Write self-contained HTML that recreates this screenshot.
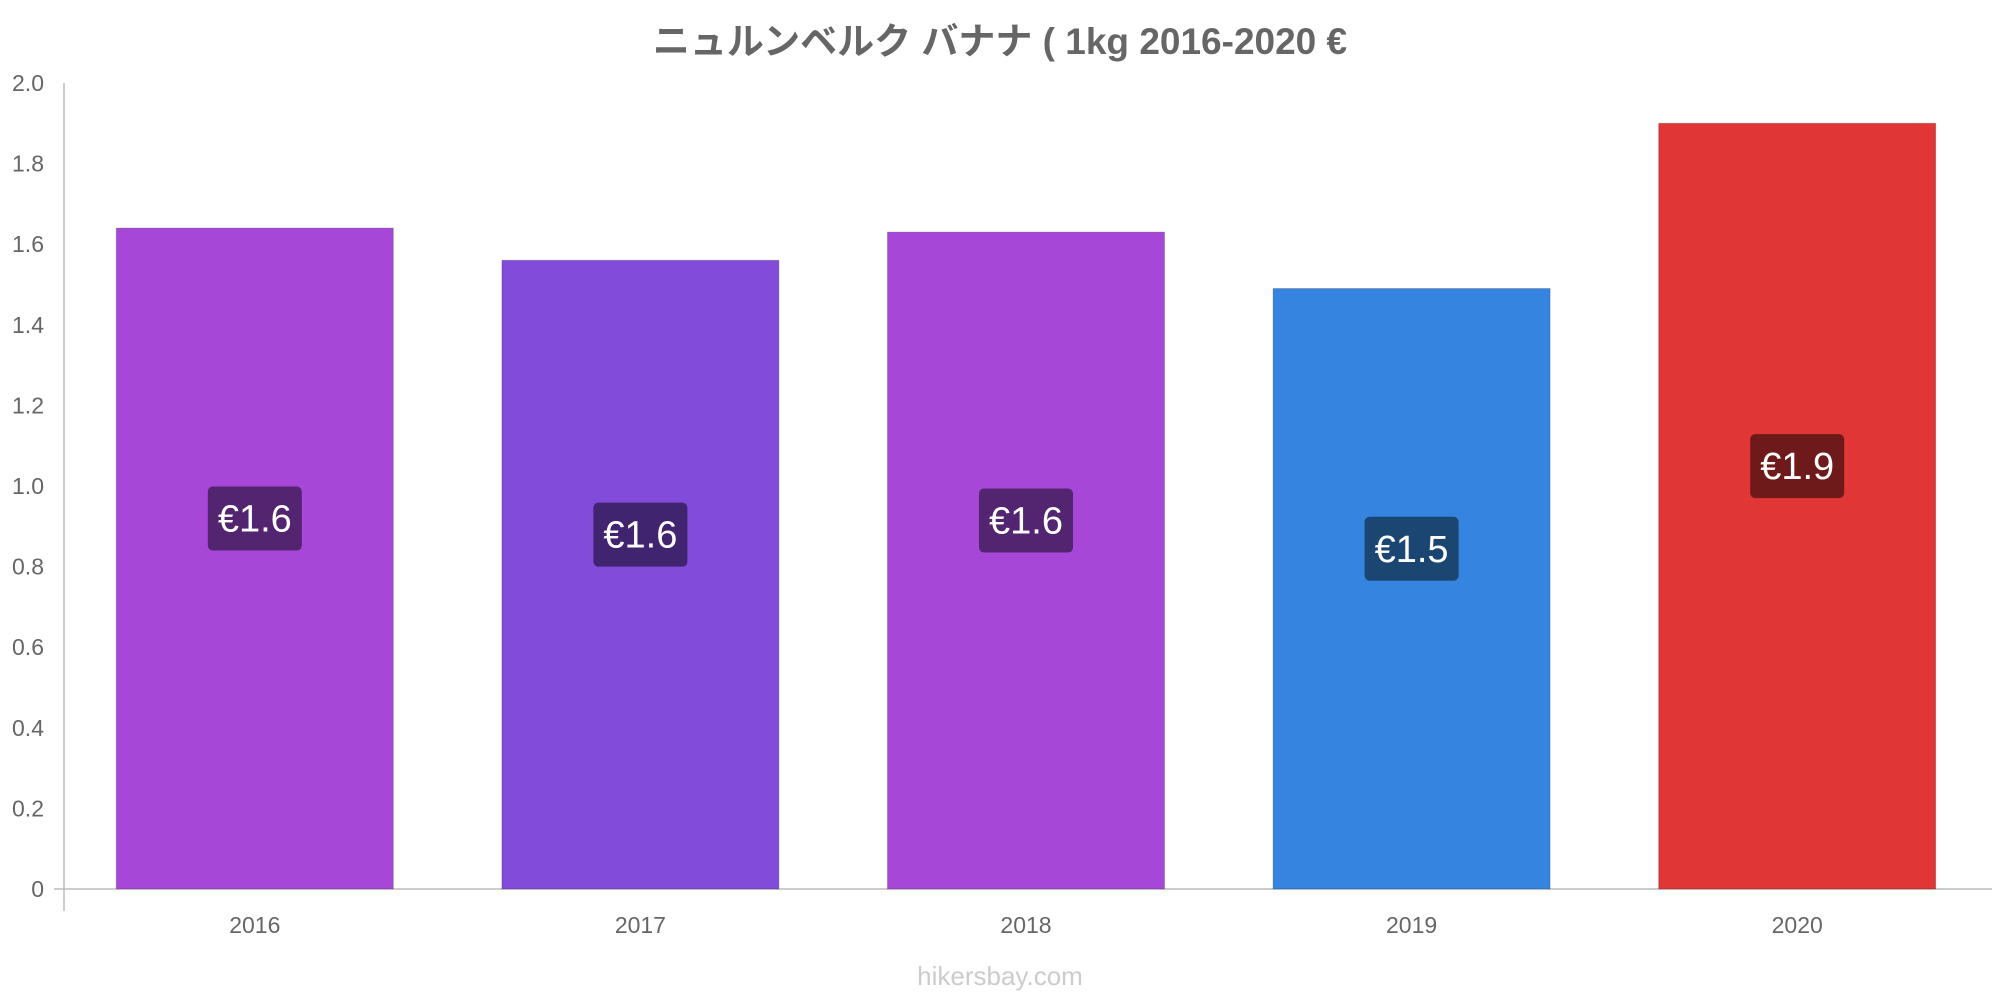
<!DOCTYPE html>
<html><head><meta charset="utf-8"><style>
html,body{margin:0;padding:0;background:#fff;}
svg{display:block;font-family:"Liberation Sans","Noto Sans CJK JP",sans-serif;}
</style></head><body>
<svg id="chart" width="2000" height="1000" viewBox="0 0 2000 1000">
<text x="1000" y="54" text-anchor="middle" font-size="37" font-weight="bold" fill="#666">ニュルンベルク バナナ ( 1kg 2016-2020 €</text>
<g id="axes"></g>
<g id="bars"></g>
<text x="1000" y="985" text-anchor="middle" font-size="26" fill="#ccc">hikersbay.com</text>
</svg>
<script>
const categories = ["2016","2017","2018","2019","2020"];
const values = [1.64, 1.56, 1.63, 1.49, 1.90];
const labels = ["€1.6","€1.6","€1.6","€1.5","€1.9"];
const yTicks = [0,0.2,0.4,0.6,0.8,1.0,1.2,1.4,1.6,1.8,2.0];
const yTickLabels = ["0","0.2","0.4","0.6","0.8","1.0","1.2","1.4","1.6","1.8","2.0"];
const barColors = ["#a747d7","#824bd9","#a747d7","#3584df","#e03636"];
const labelColors = ["#532470","#41246f","#532470","#1c4672","#6e1a1a"];

const NS="http://www.w3.org/2000/svg";
const x0=64, x1=1992, yBase=889, yTop=83;
const y = v => yBase - (v/2.0)*(yBase-yTop);
const step=(x1-x0)/categories.length;
const xc = i => x0 + step*(i+0.5) - 2;
const barW=277;
const axes=document.getElementById('axes'), bars=document.getElementById('bars');
function mk(t,a,p){const e=document.createElementNS(NS,t);for(const k in a)e.setAttribute(k,a[k]);p.appendChild(e);return e;}

const yl=mk('line',{x1:x0,x2:x0,y1:yTop,y2:yBase+22,stroke:'#bbb','stroke-width':1.5},axes);


const xl=mk('line',{x1:x0-10,x2:x1,y1:yBase,y2:yBase,stroke:'#bbb','stroke-width':1.5},axes);


yTicks.forEach((v,i)=>{
  const t=mk('text',{x:x0-20,y:y(v)+8,'text-anchor':'end','font-size':23,fill:'#666'},axes);
  t.textContent=yTickLabels[i];
  
  
});
categories.forEach((c,i)=>{
  const t=mk('text',{x:xc(i),y:933,'text-anchor':'middle','font-size':23,fill:'#666'},axes);
  t.textContent=c;
  
  
  const top=y(values[i]);
  const r=mk('rect',{x:xc(i)-barW/2,y:top,width:barW,height:yBase-top,fill:barColors[i],stroke:'rgba(0,0,0,0.2)','stroke-width':1},bars);
  
  
  const cy=(top+yBase)/2-40;
  const g=mk('g',{},bars);
  
  
  mk('rect',{x:xc(i)-47,y:cy-32,width:94,height:64,rx:5,fill:labelColors[i]},g);
  const lt=mk('text',{x:xc(i),y:cy+13,'text-anchor':'middle','font-size':38,fill:'#fff'},g);
  lt.textContent=labels[i];
});
</script>
</body></html>
